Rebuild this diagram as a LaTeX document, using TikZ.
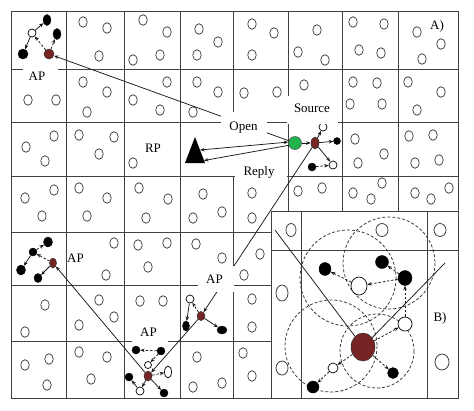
\documentclass[tikz,border=0pt]{standalone}
\usepackage{fontspec}
\setmainfont{Liberation Serif}
\usetikzlibrary{shapes.geometric,arrows.meta}
\definecolor{apred}{RGB}{118,36,36}
\definecolor{srcgreen}{RGB}{34,180,76}
\definecolor{gline}{RGB}{65,65,65}
\begin{document}
\begin{tikzpicture}[x=1bp,y=-1bp,
  gridl/.style={draw=gline, line width=1bp},
  sz/.style 2 args={minimum width=#1bp, minimum height=#2bp},
  pc/.style={ellipse, draw=gline, line width=0.75bp, minimum width=8.5bp, minimum height=10.5bp, inner sep=0pt},
  ipc/.style={ellipse, draw=gline, line width=0.8bp, inner sep=0pt},
  bk/.style={ellipse, fill=black, draw=black, line width=0.4bp, inner sep=0pt},
  wn/.style={ellipse, fill=white, draw=black, line width=0.7bp, inner sep=0pt},
  rn/.style={ellipse, fill=apred, draw=black!80, line width=0.5bp, inner sep=0pt},
  gn/.style={circle, fill=srcgreen, draw=black!70, line width=0.5bp, inner sep=0pt},
  conn/.style={draw=black!90, line width=0.75bp},
  arr/.style={conn, -{Stealth[length=4.5bp,width=3.5bp]}},
  darr/.style={arr, dash pattern=on 2.5bp off 1.8bp},
  dcirc/.style={draw=black!80, line width=0.75bp, dash pattern=on 3bp off 2bp},
  txt/.style={font=\fontsize{13}{15}\selectfont, inner sep=0pt, anchor=base},
  gap/.style={fill=white, draw=none}
]
\useasboundingbox (0,0) rectangle (474,410);
\fill[white] (0,0) rectangle (474,410);

% ---- main grid
\foreach \yy in {11,69,122,176,232,285,341,398}
  \draw[gridl] (11,\yy) -- (458.5,\yy);
\foreach \xx in {11,66,124,180,288,342,398,458.5}
  \draw[gridl] (\xx,11) -- (\xx,398);
\draw[gridl] (233,11) -- (233,122);
\draw[gridl] (233,176) -- (233,398);

% ---- plain nodes of the main grid
\foreach \p [count=\i] in {
 (83,22),(107,28),(99,56),
 (143,20),(167,32),(133,60),(160,55),
 (199,29),(218,42),(197,55),
 (252,24),(274,33),(252,55),
 (298,52),(317,30),(325,60),
 (353,22),(384,24),(359,50),(381,53),
 (417,32),(441,44),(422,59),
 (28,100),(56,100),
 (83,82),(107,92),(87,112),
 (133,100),(167,82),(160,110),
 (197,82),(218,92),(193,112),
 (244,93),(277,92),
 (304,85),
 (353,82),(377,83),(350,104),(382,104),
 (408,82),(441,92),(417,110),
 (26,147),(54,136),(45,161),
 (79,135),(114,137),(99,154),
 (133,163),
 (355,139),(358,163),(384,154),
 (409,136),(433,135),(415,163),(439,160),
 (25,198),(54,190),(42,216),
 (79,188),(107,198),(87,216),
 (139,188),(168,199),(146,218),
 (203,194),(222,212),(193,218),
 (252,193),(252,218),
 (298,191),(322,188),
 (353,193),(371,199),(382,183),
 (415,193),(431,199),(449,188),
 (114,243),(106,275),
 (138,245),(167,243),(148,267),
 (196,244),(222,258),
 (260,254),(244,275),
 (45,305),(25,332),
 (99,300),(114,317),(79,325),
 (140,301),(163,301),
 (252,299),(252,327),
 (25,365),(49,359),(47,385),
 (79,352),(107,357),(91,379),
 (197,357),(193,387),(222,383),
 (243,353),(252,376)}
  \node[pc] (o\i) at \p {};

% ---- inset B
\draw[gridl, fill=white] (271,211) rectangle (458.5,398);
\draw[gridl] (301,211) -- (301,398);
\draw[gridl] (427,211) -- (427,398);
\draw[gridl] (271,250) -- (458.5,250);
\node[ipc, sz={10}{13}] (ip1) at (291,230) {};
\node[ipc, sz={12}{13}] (ip2) at (382,230) {};
\node[ipc, sz={12}{13}] (ip3) at (440,230) {};
\node[ipc, sz={12}{16}] (ip4) at (282,293) {};
\node[ipc, sz={12}{14}] (ip5) at (282,368) {};
\node[ipc, sz={14}{16}] (ip6) at (442,362) {};
\draw[dcirc] (348,278) circle (48);
\draw[dcirc] (389,263) circle (46);
\draw[dcirc] (331,346) circle (46);
\draw[dcirc] (377,351) circle (37);
\node[rn, sz={24}{28}] (ibr) at (363,347) {};
\node[bk, sz={12}{13}] (ib1) at (325,269) {};
\node[bk, sz={13}{13}] (ib2) at (382,262) {};
\node[bk, sz={14}{15}] (ib3) at (405,278) {};
\node[wn, sz={16}{18}] (iw1) at (359,286) {};
\node[wn, sz={14}{14}] (iw2) at (405,324) {};
\node[wn, sz={10}{10}] (iw3) at (333,368) {};
\node[bk, sz={11}{11}] (ib4) at (393,373) {};
\node[bk, sz={12}{12}] (ib5) at (313,387) {};
\coordinate (ic1) at (275,230);
\coordinate (ic2) at (445,263);
\draw[conn] (ic1) -- (ibr);
\draw[conn] (ic2) -- (ibr);
\draw[darr] (ib3) -- (iw1);
\draw[darr] (ib3) -- (ib2);
\draw[darr] (iw2) -- (ib3);
\draw[darr] (iw1) -- (ib1);
\draw[darr] (ibr) -- (iw2);
\draw[darr] (ibr) -- (ib4);
\draw[darr] (ibr) -- (iw3);
\draw[darr] (iw3) -- (ib5);
\node[txt] (lbB) at (440,321) {B)};

% ---- AP cluster top-left
\node[rn, sz={10}{10}] (a1r) at (49,54) {};
\node[wn, sz={8}{8}] (a1w) at (32,33) {};
\node[bk, sz={8}{11}] (a1b1) at (47,20) {};
\node[bk, sz={8}{11}] (a1b2) at (57,34) {};
\node[bk, sz={10}{10}] (a1b3) at (23,54) {};
\draw[arr] (a1w) -- (a1b1);
\draw[arr] (a1w) -- (a1b3);
\draw[darr] (a1r) -- (a1w);
\draw[darr] (a1r) -- (a1b2);

% ---- AP cluster left
\node[rn, sz={7}{10}] (a4r) at (53,263) {};
\node[bk, sz={9}{10}] (a4b1) at (48,242) {};
\node[bk, sz={8}{8}] (a4b2) at (33,252) {};
\node[bk, sz={9}{10}] (a4b3) at (21,270) {};
\node[bk, sz={8}{9}] (a4b4) at (38,278) {};
\draw[darr] (a4b2) -- (a4b1);
\draw[darr] (a4r) -- (a4b2);
\draw[arr] (a4b2) -- (a4b3);
\draw[arr] (a4r) -- (a4b4);

% ---- AP cluster middle
\node[rn, sz={8}{9}] (a2r) at (201,316) {};
\node[wn, sz={8}{8}] (a2w) at (190,299) {};
\node[bk, sz={7}{10}] (a2b1) at (186,326) {};
\node[bk, sz={10}{8}] (a2b2) at (222,330) {};
\draw[darr] (a2r) -- (a2w);
\draw[arr] (a2w) -- (a2b1);
\draw[arr] (a2r) -- (a2b2);

% ---- AP cluster bottom
\node[rn, sz={8}{10}] (a3r) at (148,376) {};
\node[bk, sz={8}{8}] (a3b1) at (136,350) {};
\node[bk, sz={8}{8}] (a3b2) at (161,351) {};
\node[wn, sz={7}{7}] (a3w1) at (148,365) {};
\node[wn, sz={7}{12}] (a3w2) at (168,372) {};
\node[bk, sz={8}{8}] (a3b3) at (129,377) {};
\node[wn, sz={8}{8}] (a3w3) at (140,391) {};
\node[bk, sz={8}{8}] (a3b4) at (164,393) {};
\draw[darr] (a3b2) -- (a3b1);
\draw[darr] (a3b2) -- (a3w1);
\draw[darr] (a3r) -- (a3w2);
\draw[arr] (a3r) -- (a3b4);
\draw[arr] (a3r) -- (a3w3);
\draw[arr] (a3w3) -- (a3b3);

% ---- source cluster
\node[gn, minimum size=13bp] (gr) at (295,143) {};
\node[rn, sz={8}{12}] (sr) at (315,143) {};
\node[wn, sz={8}{8}] (sw1) at (323,127) {};
\node[bk, sz={7}{7}] (sb1) at (337,141) {};
\node[wn, sz={8}{8}] (sw2) at (333,165) {};
\node[bk, sz={8}{8}] (sb2) at (312,167) {};
\draw[arr] (gr) -- (sr);
\draw[arr] (sr) -- (sw1);
\draw[arr] (sr) -- (sb1);
\draw[arr] (sr) -- (sw2);
\draw[darr] (sb2) -- (sw2);

% ---- RP triangle
\fill[black] (195,137) -- (205,163) -- (185,163) -- cycle;
\coordinate (t1) at (200,150);
\coordinate (t2) at (204,160.5);

% ---- main connectors
\draw[arr] (gr) -- (a1r);
\draw[conn, {Stealth[length=4.5bp,width=3.5bp]}-{Stealth[length=4.5bp,width=3.5bp]}] (t1) -- (gr.172);
\draw[arr] (gr.200) -- (t2);
\draw[arr] (sr) -- (a2r);
\draw[arr] (a2r) -- (a3r);
\draw[arr] (a3r) -- (a4r);

% ---- gaps for labels
\fill[gap] (23,65) rectangle (58,73);
\fill[gap] (221,112) rectangle (267,135);
\fill[gap] (287,96) rectangle (338,123.5);
\fill[gap] (235,171) rectangle (287.3,181);
\fill[gap] (198,266) rectangle (234,292);
\fill[gap] (132,322) rectangle (168,345);

% ---- labels
\node[txt] (lA) at (437,29) {A)};
\node[txt] (l1) at (37,80) {AP};
\node[txt] (l2) at (75.5,262) {AP};
\node[txt] (l3) at (214.5,283) {AP};
\node[txt] (l4) at (148.5,336) {AP};
\node[txt] (lrp) at (153,152) {RP};
\node[txt] (lop) at (243.5,130) {Open};
\node[txt] (lre) at (259,175.5) {Reply};
\node[txt] (lso) at (312,112.5) {Source};
\end{tikzpicture}
\end{document}
